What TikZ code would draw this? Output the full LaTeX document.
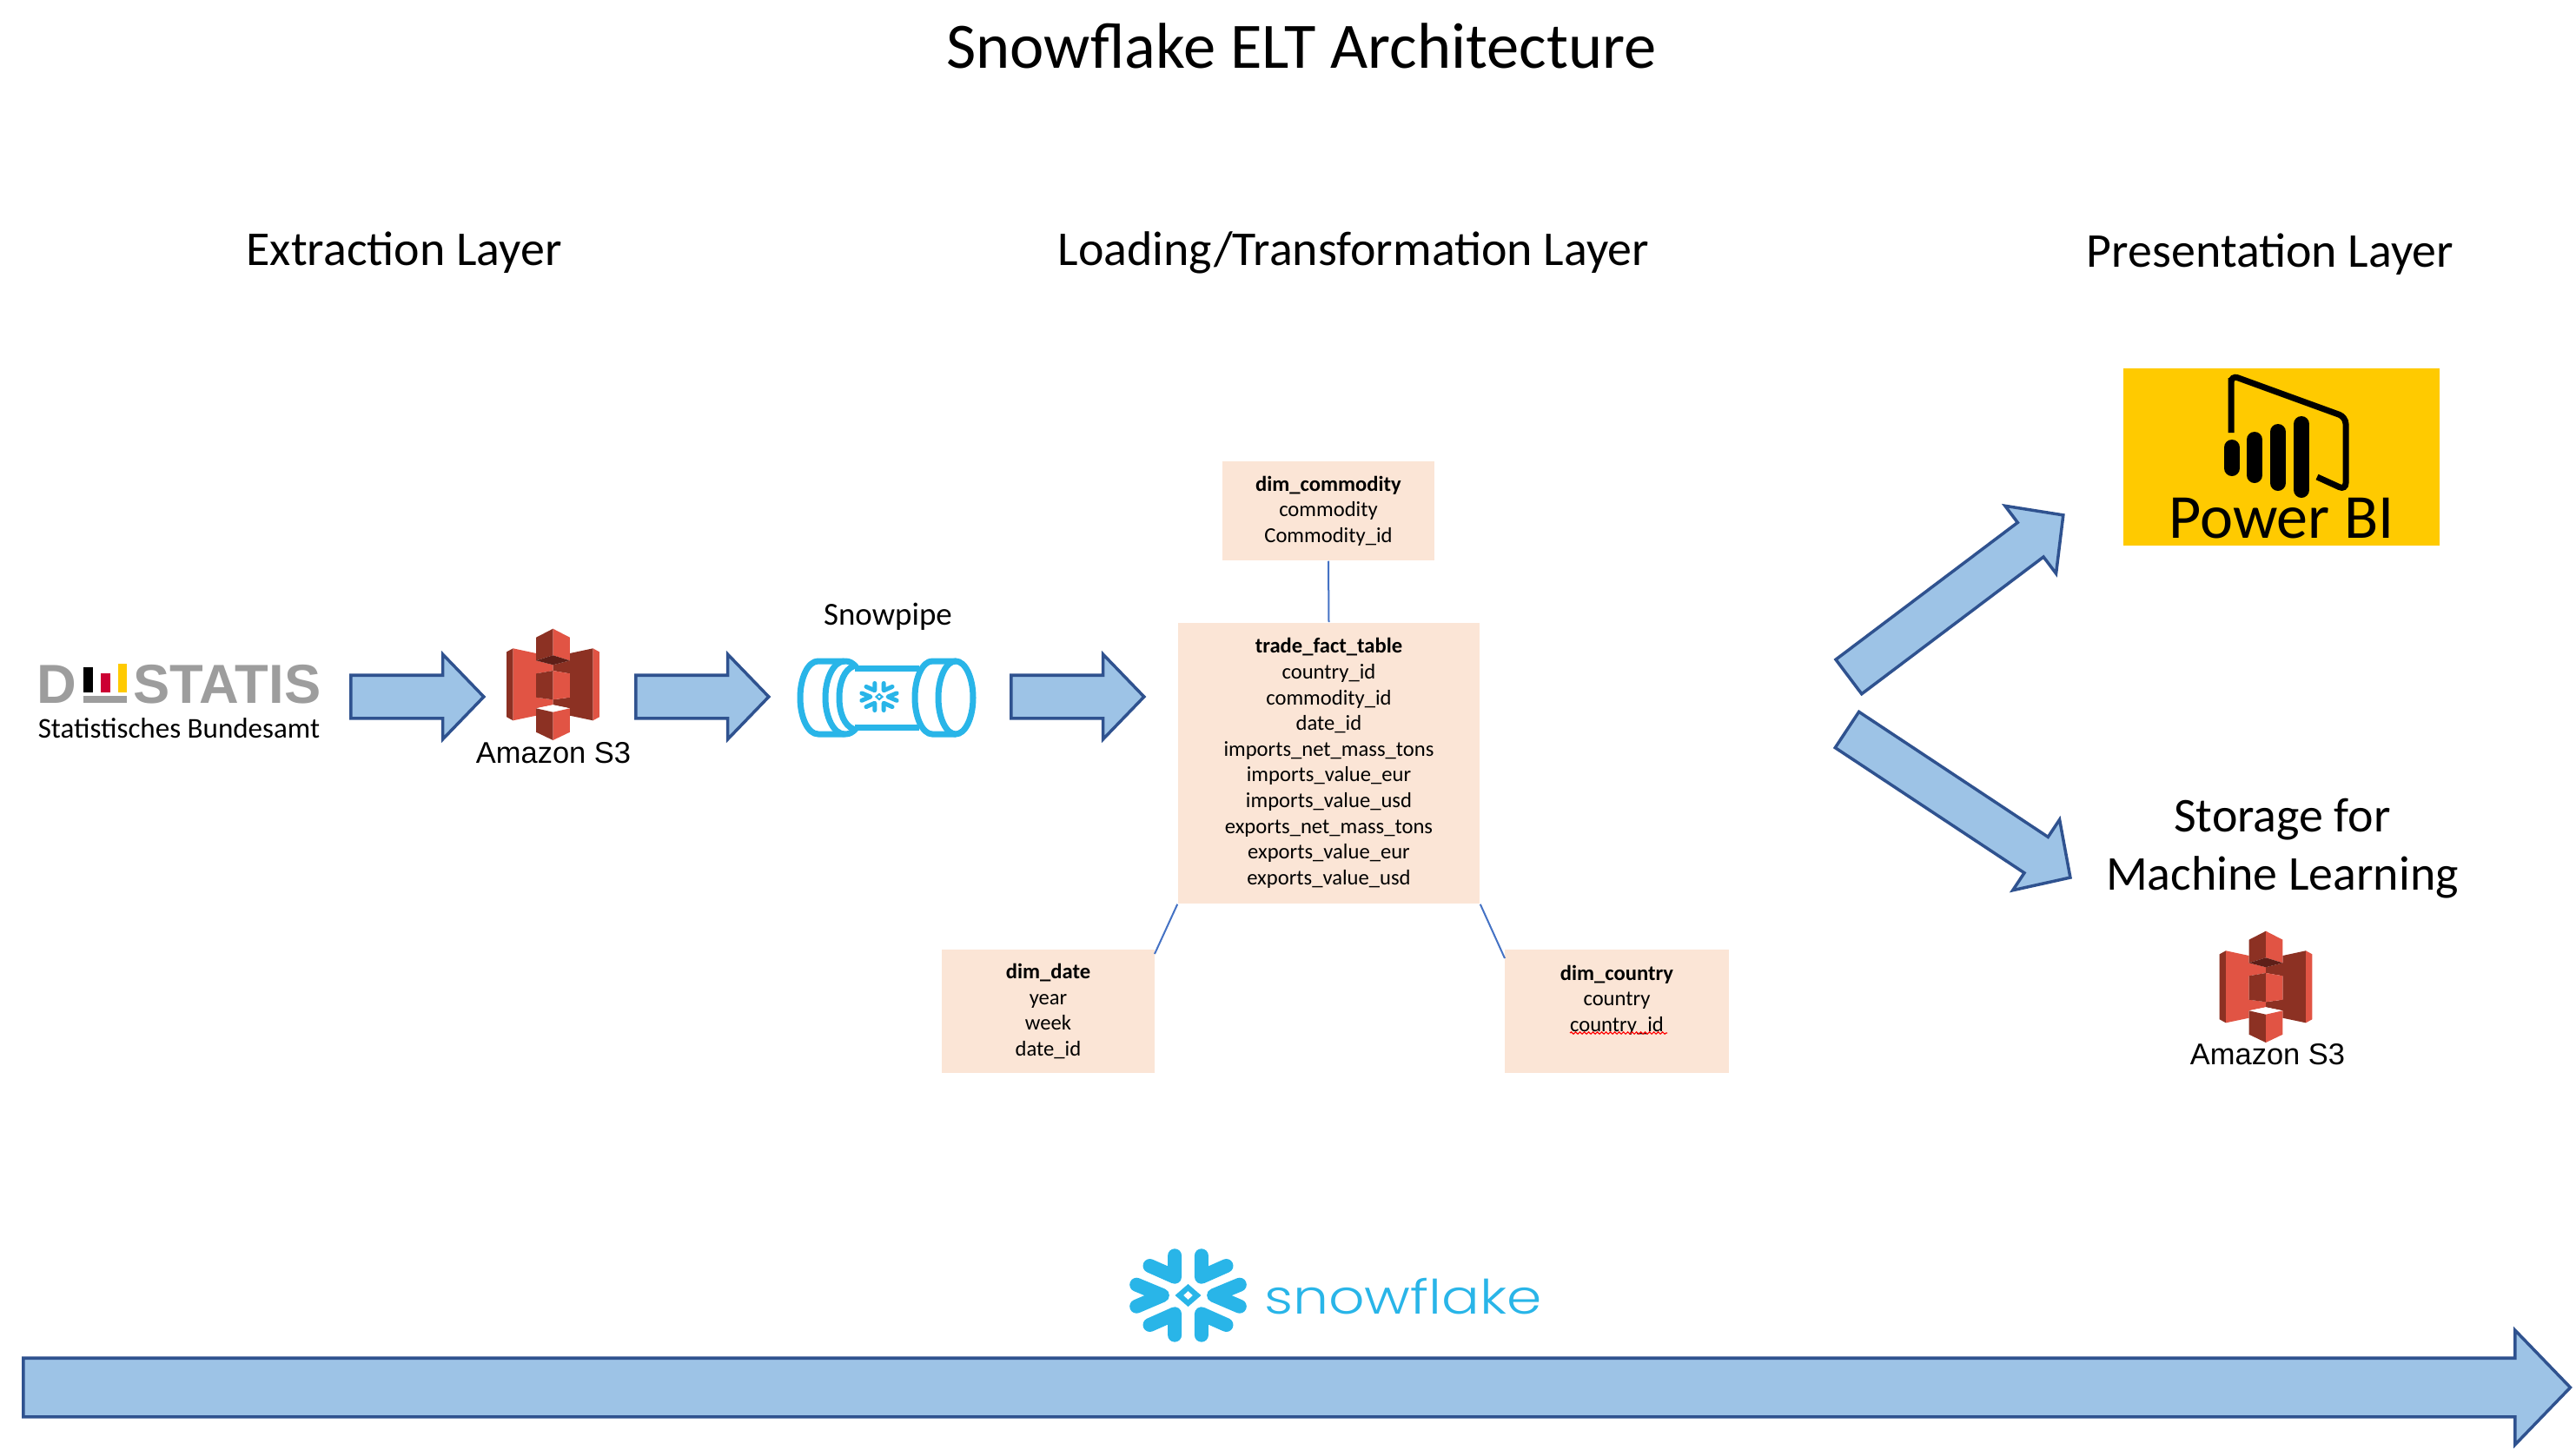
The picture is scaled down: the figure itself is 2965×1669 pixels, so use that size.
\documentclass[tikz,border=0pt]{standalone}
\usepackage{fontspec}
\setmainfont{Carlito}
\newfontfamily\arialfont{Liberation Sans}
\newfontfamily\logofont{Poppins Light}
\usetikzlibrary{shapes.arrows,decorations.pathmorphing}
\definecolor{arrowblue}{RGB}{157,195,230}
\definecolor{arrowline}{RGB}{47,82,143}
\definecolor{linkblue}{RGB}{68,114,196}
\definecolor{boxpeach}{RGB}{251,229,214}
\definecolor{flakeblue}{RGB}{41,181,232}
\definecolor{bilogo}{RGB}{255,202,0}
\definecolor{s3light}{RGB}{225,84,68}
\definecolor{s3dark}{RGB}{140,49,35}
\definecolor{s3deep}{RGB}{94,31,24}
\definecolor{destagrey}{RGB}{157,157,157}
\definecolor{destared}{RGB}{204,0,51}
\tikzstyle{layerlabel} = [font=\fontsize{15.9}{19}\selectfont, align=center]
\tikzstyle{tablebox} = [rectangle, fill=boxpeach, inner sep=0pt, align=center, font=\fontsize{7}{8.42}\selectfont]
\tikzstyle{link} = [linkblue, line width=0.02cm]
\tikzstyle{s3label} = [font=\arialfont\fontsize{9.8}{11}\selectfont]
\tikzstyle{blockarrow} = [single arrow, draw=arrowline, fill=arrowblue, line width=0.035cm, inner xsep=0pt, inner ysep=0.23cm, single arrow head extend=0.24cm, single arrow tip angle=92, anchor=tail, minimum height=1.53cm, minimum width=0.94cm]
\tikzset{
  pics/s3bucket/.style={code={
    \fill[s3dark] (-53.3,-36.7) -- (-46,-40.7) -- (-46,42.3) -- (-53.3,38.3) -- cycle;
    \fill[s3light] (-46,-40.7) -- (-19.4,-35) -- (-19.4,-26.7) -- (0,-21.7) -- (0,-15) -- (-19.4,-11.7) -- (-19.4,15.7) -- (0,18.3) -- (0,24.3) -- (-19.4,28.3) -- (-19.4,36.7) -- (-46,42.3) -- cycle;
    \fill[s3dark] (46,-40.7) -- (19.4,-35) -- (19.4,-26.7) -- (0,-21.7) -- (0,-15) -- (19.4,-11.7) -- (19.4,15.7) -- (0,18.3) -- (0,24.3) -- (19.4,28.3) -- (19.4,36.7) -- (46,42.3) -- cycle;
    \fill[s3light] (53.3,-36.7) -- (46,-40.7) -- (46,42.3) -- (53.3,38.3) -- cycle;
    % top block
    \fill[s3dark] (-19.4,-53.3) -- (0,-63.3) -- (0,-32.7) -- (-19.4,-26.7) -- cycle;
    \fill[s3light] (19.4,-53.3) -- (0,-63.3) -- (0,-32.7) -- (19.4,-26.7) -- cycle;
    \fill[s3deep] (-19.4,-26.7) -- (0,-32.7) -- (19.4,-26.7) -- (0,-21.7) -- cycle;
    % middle block
    \fill[s3dark] (-19.4,-11.7) -- (0,-15) -- (0,18.3) -- (-19.4,15.7) -- cycle;
    \fill[s3light] (19.4,-11.7) -- (0,-15) -- (0,18.3) -- (19.4,15.7) -- cycle;
    % bottom block
    \fill[white] (-19.4,28.3) -- (0,24.3) -- (19.4,28.3) -- (0,32.7) -- cycle;
    \fill[s3dark] (-19.4,28.3) -- (0,32.7) -- (0,65) -- (-19.4,55.7) -- cycle;
    \fill[s3light] (19.4,28.3) -- (0,32.7) -- (0,65) -- (19.4,55.7) -- cycle;
  }},
  pics/snowmark/.style={code={
    \draw[flakeblue, line width=#1, line cap=round, line join=round]
      (-15.4,-45.7) -- (-15.4,-21.3) -- (-44,-34)
      (15.4,-45.7) -- (15.4,-21.3) -- (44,-34)
      (-59.3,-12.3) -- (-29.6,0) -- (-59.3,12.7)
      (59.3,-12.3) -- (29.6,0) -- (59.3,12.7)
      (-15.4,45.7) -- (-15.4,21.3) -- (-44,34)
      (15.4,45.7) -- (15.4,21.3) -- (44,34);
    \fill[flakeblue, even odd rule] (0,-13) -- (15,0) -- (0,13) -- (-15,0) -- cycle
      (0,-5) -- (5.5,0) -- (0,5) -- (-5.5,0) -- cycle;
  }}
}

\begin{document}
\begin{tikzpicture}[x=0.01cm,y=-0.01cm]
\useasboundingbox (0,0) rectangle (2965,1669);
% headings
\node[font=\fontsize{21.2}{25}\selectfont] (title) at (1498,53) {Snowflake ELT Architecture};
\node[layerlabel] (extract) at (465,291) {Extraction Layer};
\node[layerlabel] (load) at (1558,291) {Loading/Transformation Layer};
\node[layerlabel] (present) at (2613,293) {Presentation Layer};

% Destatis logo
\node[font=\arialfont\bfseries\fontsize{18}{20}\selectfont, text=destagrey, inner sep=0pt, anchor=base west] (destad) at (42,809) {D};
\node[font=\arialfont\bfseries\fontsize{18}{20}\selectfont, text=destagrey, inner sep=0pt, anchor=base east] (destas) at (370,809) {STATIS};
\fill[black] (96,768) rectangle (107,797);
\fill[destared] (116,775) rectangle (127,797);
\fill[bilogo] (136,764) rectangle (146,797);
\fill[destagrey] (96,801) rectangle (146,809);
\node[font=\fontsize{9.4}{11}\selectfont] (destatis) at (206,838) {Statistisches Bundesamt};

% source and pipe
\pic (s3src) at (636.5,787) {s3bucket};
\node[s3label] (s3srclabel) at (637,867) {Amazon S3};
\node[font=\fontsize{10.5}{12}\selectfont] (snowpipe) at (1022,710) {Snowpipe};
\draw[flakeblue, line width=0.07cm, line cap=round, line join=round]
  (985,767) .. controls (981,763) and (978,761) .. (973,761) -- (941.7,761)
  .. controls (930,761) and (921,780) .. (921,803) .. controls (921,826) and (930,845) .. (941.7,845)
  -- (973,845) .. controls (978,845) and (981,843) .. (985,839);
\draw[flakeblue, line width=0.07cm] (972,761) .. controls (960,761) and (950,780) .. (950,803) .. controls (950,826) and (960,845) .. (972,845);
\draw[flakeblue, line width=0.07cm] (982,767) .. controls (972,771) and (966,785) .. (966,803) .. controls (966,821) and (972,835) .. (982,839);
\draw[flakeblue, line width=0.07cm] (984,769) -- (1058,769) (984,837) -- (1058,837);
\draw[flakeblue, line width=0.07cm] (1100,761) -- (1073,761) .. controls (1062,761) and (1053,780) .. (1053,803) .. controls (1053,826) and (1062,845) .. (1073,845) -- (1100,845);
\draw[flakeblue, line width=0.07cm] (1100,803) circle[x radius=20, y radius=42];
\pic[scale=0.34] (pipeflake) at (1012,802) {snowmark=0.05cm};

% arrows along the flow
\node[blockarrow] (flow1) at (402,802) {};
\node[blockarrow] (flow2) at (730,802) {};
\node[blockarrow] (flow3) at (1162,802) {};

% star schema
\node[tablebox, minimum width=2.44cm, minimum height=1.14cm] (commodity) at (1529,588) {\textbf{dim\_commodity}\\commodity\\Commodity\_id};
\node[tablebox, minimum width=3.47cm, minimum height=3.23cm] (fact) at (1529.5,878.5) {\textbf{trade\_fact\_table}\\country\_id\\commodity\_id\\date\_id\\imports\_net\_mass\_tons\\imports\_value\_eur\\imports\_value\_usd\\exports\_net\_mass\_tons\\exports\_value\_eur\\exports\_value\_usd};
\node[tablebox, minimum width=2.45cm, minimum height=1.42cm] (date) at (1206.5,1164) {\textbf{dim\_date}\\year\\week\\date\_id};
\node[tablebox, minimum width=2.58cm, minimum height=1.42cm] (country) at (1861,1164) {\textbf{dim\_country}\\country\\country\_id\\~};
\coordinate (datelink) at (1329,1098);
\coordinate (countrylink) at (1732,1103);
\draw[link] (commodity.south) -- (fact.north);
\draw[link] (fact.south west) -- (datelink);
\draw[link] (fact.south east) -- (countrylink);
\draw[red, line width=0.012cm, decorate, decoration={snake, amplitude=0.012cm, segment length=0.05cm}] (1807,1189) -- (1919,1189);

% presentation layer
\node[blockarrow, rotate=37, minimum height=3.09cm] (topower) at (2126.5,780) {};
\node[blockarrow, rotate=-33.5, minimum height=3.08cm] (tostore) at (2124.5,839) {};
\node[rectangle, fill=bilogo, inner sep=0pt, minimum width=3.64cm, minimum height=2.04cm] (powerbi) at (2626,526) {};
\draw[black, line width=0.07cm, rounded corners=0.08cm] (2568,498) -- (2568,443) -- (2568,432) -- (2700,480) -- (2700,564) -- (2667,549);
\foreach \x/\ytop/\ybot in {2569/506/548, 2595/497/556, 2622/488/565, 2649/479/573}
  \draw[black, line width=0.18cm, line cap=round] (\x,\ytop+9) -- (\x,\ybot-9);
\node[font=\fontsize{20.5}{24}\selectfont, inner sep=0pt] (powerbilabel) at (2626,597) {Power BI};
\node[layerlabel] (storage) at (2627,977) {Storage for\\Machine Learning};
\pic (s3dest) at (2608,1135) {s3bucket};
\node[s3label] (s3destlabel) at (2610,1214) {Amazon S3};

% snowflake band
\pic (flakelogo) at (1367.5,1491) {snowmark=0.16cm};
\node[font=\logofont\fontsize{15.5}{18}\selectfont, text=flakeblue, inner sep=0pt] (flakelabel) at (1615,1492) {\scalebox{1.19}[1]{snowflake}};
\node[blockarrow, minimum height=29.3cm, minimum width=1.28cm, inner ysep=0.32cm, single arrow head extend=0.32cm, single arrow tip angle=92] (band) at (25,1597) {};
\end{tikzpicture}
\end{document}
